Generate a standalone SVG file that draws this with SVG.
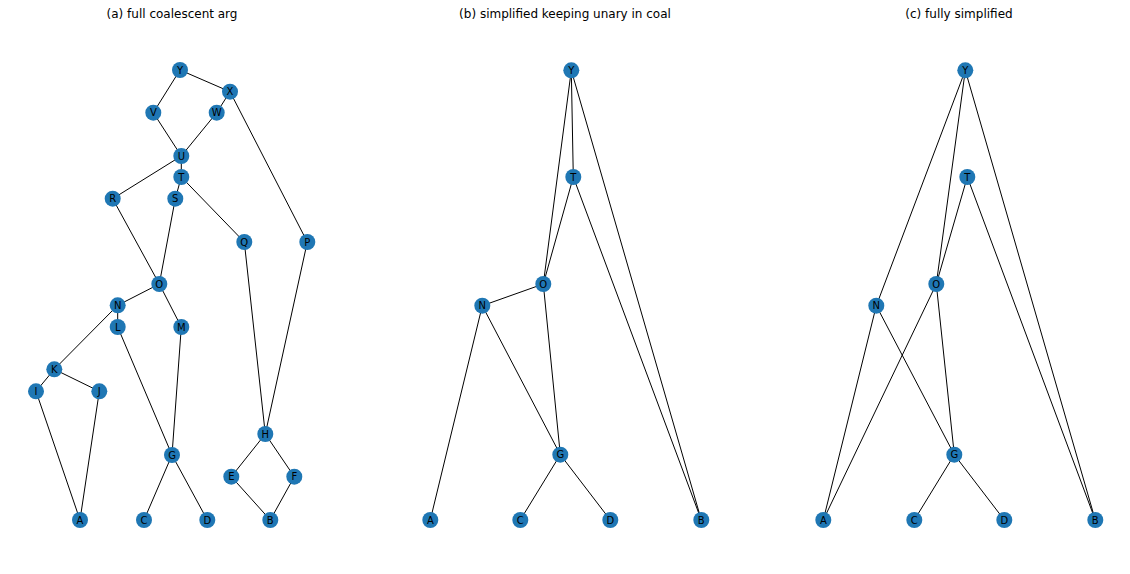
<svg xmlns="http://www.w3.org/2000/svg" width="1130" height="574" viewBox="0 0 1130 574">
<style>
.e{stroke:#000;stroke-width:1;fill:none}
.n circle{fill:#1f77b4}
.n text{font-family:"DejaVu Sans",sans-serif;font-size:10px;fill:#000;text-anchor:middle;dominant-baseline:central}
.t{font-family:"DejaVu Sans",sans-serif;font-size:12px;fill:#000;text-anchor:middle}
</style>
<rect width="1130" height="574" fill="#fff"/>
<text class="t" x="172" y="18">(a) full coalescent arg</text>
<text class="t" x="565" y="18">(b) simplified keeping unary in coal</text>
<text class="t" x="959" y="18">(c) fully simplified</text>
<g id="connectors" class="e">
<!-- panel a -->
<line x1="180" y1="70" x2="153.3" y2="112.7"/>
<line x1="180" y1="70" x2="230" y2="91.7"/>
<line x1="230" y1="91.7" x2="216.7" y2="112.7"/>
<line x1="230" y1="91.7" x2="307.3" y2="242"/>
<line x1="153.3" y1="112.7" x2="181.3" y2="156"/>
<line x1="216.7" y1="112.7" x2="181.3" y2="156"/>
<line x1="181.3" y1="156" x2="181.3" y2="177"/>
<line x1="181.3" y1="156" x2="112.7" y2="198.7"/>
<line x1="181.3" y1="177" x2="175.3" y2="198.7"/>
<line x1="181.3" y1="177" x2="244.3" y2="242"/>
<line x1="112.7" y1="198.7" x2="159.3" y2="284"/>
<line x1="175.3" y1="198.7" x2="159.3" y2="284"/>
<line x1="159.3" y1="284" x2="117.7" y2="305.3"/>
<line x1="159.3" y1="284" x2="181.3" y2="327"/>
<line x1="117.7" y1="305.3" x2="117.7" y2="327"/>
<line x1="117.7" y1="305.3" x2="54.3" y2="369.3"/>
<line x1="54.3" y1="369.3" x2="36" y2="391.3"/>
<line x1="54.3" y1="369.3" x2="99.3" y2="391.3"/>
<line x1="117.7" y1="327" x2="172" y2="455"/>
<line x1="181.3" y1="327" x2="172" y2="455"/>
<line x1="36" y1="391.3" x2="80" y2="520"/>
<line x1="99.3" y1="391.3" x2="80" y2="520"/>
<line x1="172" y1="455" x2="144" y2="520"/>
<line x1="172" y1="455" x2="207.3" y2="520"/>
<line x1="244.3" y1="242" x2="265.3" y2="434"/>
<line x1="307.3" y1="242" x2="265.3" y2="434"/>
<line x1="265.3" y1="434" x2="231.3" y2="476.7"/>
<line x1="265.3" y1="434" x2="294.3" y2="476.7"/>
<line x1="231.3" y1="476.7" x2="270.3" y2="520"/>
<line x1="294.3" y1="476.7" x2="270.3" y2="520"/>
<!-- panel b -->
<line x1="571.3" y1="70.3" x2="573.3" y2="177"/>
<line x1="571.3" y1="70.3" x2="543.3" y2="284"/>
<line x1="571.3" y1="70.3" x2="701.3" y2="520"/>
<line x1="573.3" y1="177" x2="543.3" y2="284"/>
<line x1="573.3" y1="177" x2="701.3" y2="520"/>
<line x1="543.3" y1="284" x2="482.3" y2="305.7"/>
<line x1="543.3" y1="284" x2="560.3" y2="454.7"/>
<line x1="482.3" y1="305.7" x2="430.3" y2="520"/>
<line x1="482.3" y1="305.7" x2="560.3" y2="454.7"/>
<line x1="560.3" y1="454.7" x2="520.3" y2="520"/>
<line x1="560.3" y1="454.7" x2="610.3" y2="520"/>
<!-- panel c -->
<line x1="965.3" y1="70.3" x2="876.3" y2="305.7"/>
<line x1="965.3" y1="70.3" x2="936.3" y2="284"/>
<line x1="965.3" y1="70.3" x2="1095.3" y2="520"/>
<line x1="967.3" y1="177" x2="936.3" y2="284"/>
<line x1="967.3" y1="177" x2="1095.3" y2="520"/>
<line x1="936.3" y1="284" x2="823.3" y2="520"/>
<line x1="936.3" y1="284" x2="954.3" y2="454.7"/>
<line x1="876.3" y1="305.7" x2="823.3" y2="520"/>
<line x1="876.3" y1="305.7" x2="954.3" y2="454.7"/>
<line x1="954.3" y1="454.7" x2="914.3" y2="520"/>
<line x1="954.3" y1="454.7" x2="1004.3" y2="520"/>
</g>
<!-- panel a nodes -->
<g id="a_Y" class="n"><circle cx="180" cy="70" r="8"/><text x="180" y="70">Y</text></g>
<g id="a_X" class="n"><circle cx="230" cy="91.7" r="8"/><text x="230" y="91.7">X</text></g>
<g id="a_V" class="n"><circle cx="153.3" cy="112.7" r="8"/><text x="153.3" y="112.7">V</text></g>
<g id="a_W" class="n"><circle cx="216.7" cy="112.7" r="8"/><text x="216.7" y="112.7">W</text></g>
<g id="a_U" class="n"><circle cx="181.3" cy="156" r="8"/><text x="181.3" y="156">U</text></g>
<g id="a_T" class="n"><circle cx="181.3" cy="177" r="8"/><text x="181.3" y="177">T</text></g>
<g id="a_R" class="n"><circle cx="112.7" cy="198.7" r="8"/><text x="112.7" y="198.7">R</text></g>
<g id="a_S" class="n"><circle cx="175.3" cy="198.7" r="8"/><text x="175.3" y="198.7">S</text></g>
<g id="a_Q" class="n"><circle cx="244.3" cy="242" r="8"/><text x="244.3" y="242">Q</text></g>
<g id="a_P" class="n"><circle cx="307.3" cy="242" r="8"/><text x="307.3" y="242">P</text></g>
<g id="a_O" class="n"><circle cx="159.3" cy="284" r="8"/><text x="159.3" y="284">O</text></g>
<g id="a_N" class="n"><circle cx="117.7" cy="305.3" r="8"/><text x="117.7" y="305.3">N</text></g>
<g id="a_L" class="n"><circle cx="117.7" cy="327" r="8"/><text x="117.7" y="327">L</text></g>
<g id="a_M" class="n"><circle cx="181.3" cy="327" r="8"/><text x="181.3" y="327">M</text></g>
<g id="a_K" class="n"><circle cx="54.3" cy="369.3" r="8"/><text x="54.3" y="369.3">K</text></g>
<g id="a_I" class="n"><circle cx="36" cy="391.3" r="8"/><text x="36" y="391.3">I</text></g>
<g id="a_J" class="n"><circle cx="99.3" cy="391.3" r="8"/><text x="99.3" y="391.3">J</text></g>
<g id="a_H" class="n"><circle cx="265.3" cy="434" r="8"/><text x="265.3" y="434">H</text></g>
<g id="a_G" class="n"><circle cx="172" cy="455" r="8"/><text x="172" y="455">G</text></g>
<g id="a_E" class="n"><circle cx="231.3" cy="476.7" r="8"/><text x="231.3" y="476.7">E</text></g>
<g id="a_F" class="n"><circle cx="294.3" cy="476.7" r="8"/><text x="294.3" y="476.7">F</text></g>
<g id="a_A" class="n"><circle cx="80" cy="520" r="8"/><text x="80" y="520">A</text></g>
<g id="a_C" class="n"><circle cx="144" cy="520" r="8"/><text x="144" y="520">C</text></g>
<g id="a_D" class="n"><circle cx="207.3" cy="520" r="8"/><text x="207.3" y="520">D</text></g>
<g id="a_B" class="n"><circle cx="270.3" cy="520" r="8"/><text x="270.3" y="520">B</text></g>
<!-- panel b nodes -->
<g id="b_Y" class="n"><circle cx="571.3" cy="70.3" r="8"/><text x="571.3" y="70.3">Y</text></g>
<g id="b_T" class="n"><circle cx="573.3" cy="177" r="8"/><text x="573.3" y="177">T</text></g>
<g id="b_O" class="n"><circle cx="543.3" cy="284" r="8"/><text x="543.3" y="284">O</text></g>
<g id="b_N" class="n"><circle cx="482.3" cy="305.7" r="8"/><text x="482.3" y="305.7">N</text></g>
<g id="b_G" class="n"><circle cx="560.3" cy="454.7" r="8"/><text x="560.3" y="454.7">G</text></g>
<g id="b_A" class="n"><circle cx="430.3" cy="520" r="8"/><text x="430.3" y="520">A</text></g>
<g id="b_C" class="n"><circle cx="520.3" cy="520" r="8"/><text x="520.3" y="520">C</text></g>
<g id="b_D" class="n"><circle cx="610.3" cy="520" r="8"/><text x="610.3" y="520">D</text></g>
<g id="b_B" class="n"><circle cx="701.3" cy="520" r="8"/><text x="701.3" y="520">B</text></g>
<!-- panel c nodes -->
<g id="c_Y" class="n"><circle cx="965.3" cy="70.3" r="8"/><text x="965.3" y="70.3">Y</text></g>
<g id="c_T" class="n"><circle cx="967.3" cy="177" r="8"/><text x="967.3" y="177">T</text></g>
<g id="c_O" class="n"><circle cx="936.3" cy="284" r="8"/><text x="936.3" y="284">O</text></g>
<g id="c_N" class="n"><circle cx="876.3" cy="305.7" r="8"/><text x="876.3" y="305.7">N</text></g>
<g id="c_G" class="n"><circle cx="954.3" cy="454.7" r="8"/><text x="954.3" y="454.7">G</text></g>
<g id="c_A" class="n"><circle cx="823.3" cy="520" r="8"/><text x="823.3" y="520">A</text></g>
<g id="c_C" class="n"><circle cx="914.3" cy="520" r="8"/><text x="914.3" y="520">C</text></g>
<g id="c_D" class="n"><circle cx="1004.3" cy="520" r="8"/><text x="1004.3" y="520">D</text></g>
<g id="c_B" class="n"><circle cx="1095.3" cy="520" r="8"/><text x="1095.3" y="520">B</text></g>
</svg>
